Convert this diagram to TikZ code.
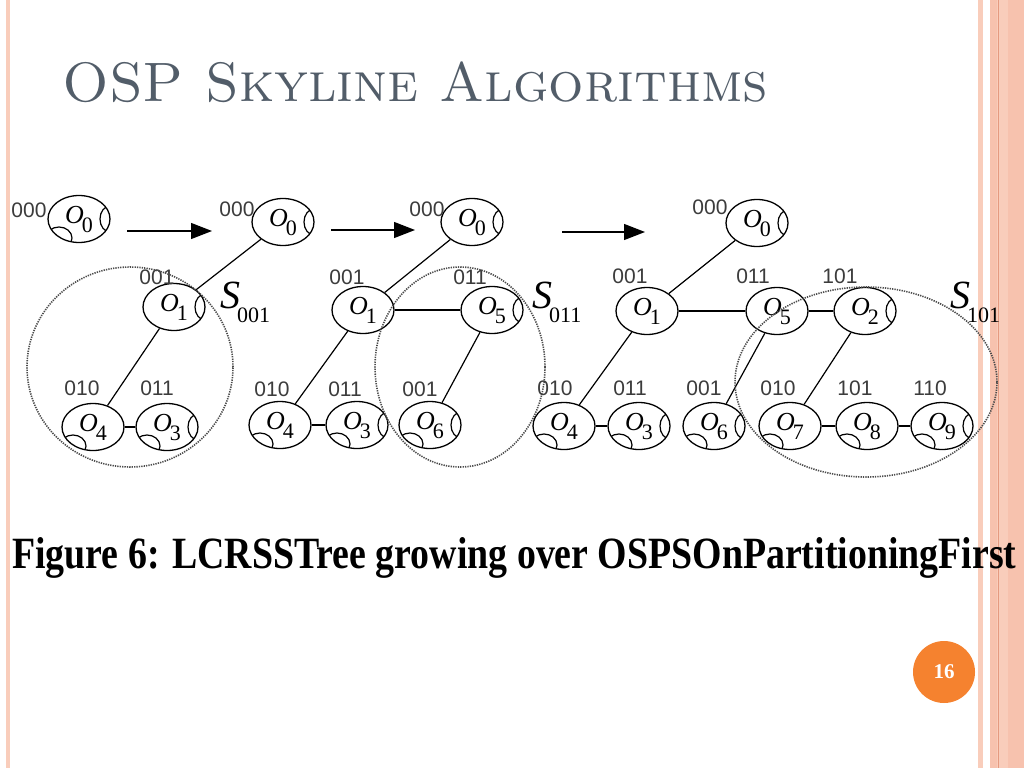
\documentclass[tikz,border=0pt]{standalone}
\usepackage{fontspec}
\newfontfamily\tnr{Liberation Serif}
\newfontfamily\arial{Liberation Sans}
\usetikzlibrary{shapes.geometric,arrows.meta,calc}
\definecolor{pinkstripe}{HTML}{F9CDBB}
\definecolor{pinkband}{HTML}{F7C2AE}
\definecolor{pinkline}{HTML}{E59A80}
\definecolor{titlegray}{HTML}{525D69}
\definecolor{pageorange}{HTML}{F5822F}
\definecolor{lblgray}{HTML}{3C3C3C}
\newcommand{\Ob}[1]{{\fontsize{26}{26}\selectfont\tnr\itshape O}\kern-2pt\raisebox{-9pt}{\fontsize{22}{22}\selectfont\tnr #1}}
\newcommand{\Slab}[1]{{\fontsize{40}{40}\selectfont\tnr\itshape S}\kern-3pt\raisebox{-14pt}{\fontsize{22}{22}\selectfont\tnr #1}}
\tikzset{
  obj/.style={ellipse, draw, line width=1.3pt, minimum width=62pt, minimum height=47pt, inner sep=0pt},
  rmark/.style={path picture={\draw[line width=1.2pt] (path picture bounding box.east) ellipse (10pt and 13pt);}},
  blmark/.style={path picture={\draw[line width=1.2pt] ($(path picture bounding box.center)+(-20pt,-19pt)$) ellipse (13pt and 11pt);}},
  bothmark/.style={path picture={\draw[line width=1.2pt] (path picture bounding box.east) ellipse (10pt and 13pt);
      \draw[line width=1.2pt] ($(path picture bounding box.center)+(-20pt,-19pt)$) ellipse (13pt and 11pt);}},
  lbl/.style={font=\fontsize{21}{21}\selectfont\arial, text=lblgray, inner sep=0pt},
  conn/.style={line width=1.2pt},
  growarrow/.style={line width=1.3pt, -{Triangle[length=21pt,width=16pt]}},
  dotring/.style={line width=1.6pt, gray!60!black, dash pattern=on 1.3pt off 1.1pt},
  slab/.style={anchor=base west, inner sep=0pt},
}
\begin{document}
\begin{tikzpicture}[x=1pt,y=-1pt]
\useasboundingbox (0,0) rectangle (1024,768);
\fill[white] (0,0) rectangle (1024,768);
% slide frame
\fill[pinkstripe] (6,0) rectangle (10,768);
\fill[pinkstripe] (978,0) rectangle (983,768);
\fill[pinkstripe] (990,0) rectangle (1024,768);
\fill[pinkband] (990,0) rectangle (997,768);
\fill[pinkband] (1008,0) rectangle (1024,768);
\draw[pinkline, line width=0.8pt] (998,0) -- (998,768);
% title
\node[anchor=base west, inner sep=0pt, text=titlegray] (title) at (62,101)
  {\fontsize{55.5}{55.5}\selectfont\textsc{OSP Skyline Algorithms}};
% stage 1
\node[obj, bothmark] (a0) at (79,219) {\Ob{0}};
\node[lbl] (la0) at (29,210) {000};
\coordinate (ar1s) at (127,231); \coordinate (ar1e) at (212,231);
\draw[growarrow] (ar1s) -- (ar1e);
% stage 2
\node[obj, rmark] (b0) at (283,222) {\Ob{0}};
\node[obj, rmark] (b1) at (174,307) {\Ob{1}};
\node[obj, blmark] (b4) at (93,427) {\Ob{4}};
\node[obj, bothmark] (b3) at (167,427) {\Ob{3}};
\node[lbl] (lb0) at (237,209) {000};
\node[lbl] (lb1) at (157,277) {001};
\node[lbl] (lb4) at (82,388) {010};
\node[lbl] (lb3) at (157,388) {011};
\draw[conn] (b0) -- (b1);
\draw[conn] (b1) -- (b4);
\draw[conn] (b4) -- (b3);
\draw[dotring] (130,367) ellipse [x radius=103pt, y radius=100pt];
\node[slab] (s1) at (220,308) {\Slab{001}};
\coordinate (ar2s) at (331,230); \coordinate (ar2e) at (415,230);
\draw[growarrow] (ar2s) -- (ar2e);
% stage 3
\node[obj, rmark] (c0) at (472,222) {\Ob{0}};
\node[obj] (c1) at (363,310) {\Ob{1}};
\node[obj, rmark] (c5) at (492,310) {\Ob{5}};
\node[obj, blmark] (c4) at (280,425) {\Ob{4}};
\node[obj, bothmark] (c3) at (357,425) {\Ob{3}};
\node[obj, bothmark] (c6) at (430,425) {\Ob{6}};
\node[lbl] (lc0) at (427,209) {000};
\node[lbl] (lc1) at (347,277) {001};
\node[lbl] (lc5) at (470,277) {011};
\node[lbl] (lc4) at (272,389) {010};
\node[lbl] (lc3) at (345,389) {011};
\node[lbl] (lc6) at (420,389) {001};
\draw[conn] (c0) -- (c1);
\draw[conn] (c1) -- (c5);
\draw[conn] (c1) -- (c4);
\draw[conn] (c5) -- (c6);
\draw[conn] (c4) -- (c3);
\draw[dotring] (460,367) ellipse [x radius=85pt, y radius=100pt];
\node[slab] (s2) at (532,308) {\Slab{011}};
\coordinate (ar3s) at (562,232); \coordinate (ar3e) at (645,232);
\draw[growarrow] (ar3s) -- (ar3e);
% stage 4
\node[obj, rmark] (d0) at (757,223) {\Ob{0}};
\node[obj] (d1) at (647,311) {\Ob{1}};
\node[obj] (d5) at (777,311) {\Ob{5}};
\node[obj, rmark] (d2) at (865,311) {\Ob{2}};
\node[obj, blmark] (d4) at (564,426) {\Ob{4}};
\node[obj, bothmark] (d3) at (639,426) {\Ob{3}};
\node[obj, bothmark] (d6) at (714,426) {\Ob{6}};
\node[obj, blmark] (d7) at (790,426) {\Ob{7}};
\node[obj, blmark] (d8) at (867,426) {\Ob{8}};
\node[obj, bothmark] (d9) at (942,426) {\Ob{9}};
\node[lbl] (ld0) at (710,207) {000};
\node[lbl] (ld1) at (630,276) {001};
\node[lbl] (ld5) at (753,276) {011};
\node[lbl] (ld2) at (840,276) {101};
\node[lbl] (ld4) at (555,388) {010};
\node[lbl] (ld3) at (630,388) {011};
\node[lbl] (ld6) at (704,388) {001};
\node[lbl] (ld7) at (778,388) {010};
\node[lbl] (ld8) at (855,388) {101};
\node[lbl] (ld9) at (930,388) {110};
\draw[conn] (d0) -- (d1);
\draw[conn] (d1) -- (d5);
\draw[conn] (d5) -- (d2);
\draw[conn] (d1) -- (d4);
\draw[conn] (d5) -- (d6);
\draw[conn] (d2) -- (d7);
\draw[conn] (d4) -- (d3);
\draw[conn] (d7) -- (d8);
\draw[conn] (d8) -- (d9);
\draw[dotring] (866,382) ellipse [x radius=131pt, y radius=95pt];
\node[slab] (s3) at (950,308) {\Slab{101}};
% caption
\node[anchor=base west, inner sep=0pt] (cap) at (12,568)
  {\resizebox{1004pt}{31pt}{\tnr\bfseries Figure 6: LCRSSTree growing over OSPSOnPartitioningFirst}};
% page number
\fill[pageorange] (944,672) circle (31pt);
\node[text=white, font=\fontsize{21}{21}\selectfont\tnr\bfseries] (pg) at (944,672) {16};
\end{tikzpicture}
\end{document}
